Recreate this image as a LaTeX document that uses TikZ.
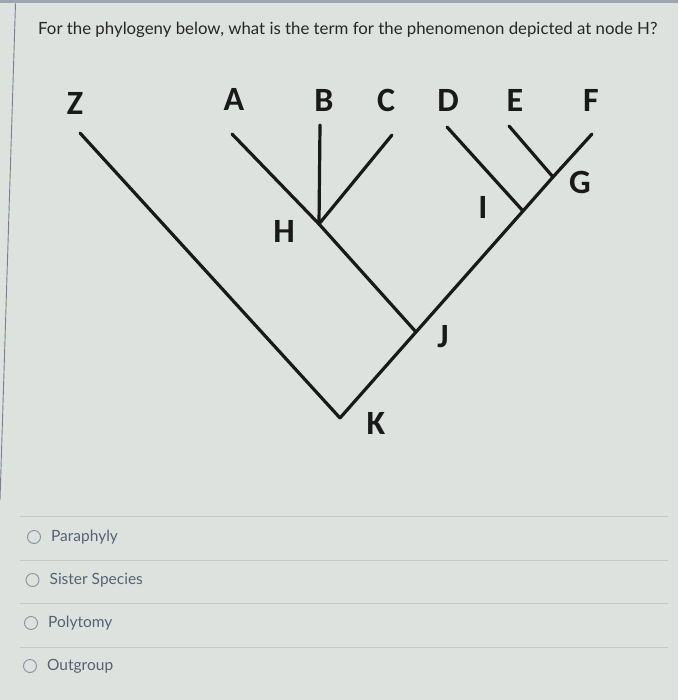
\documentclass[tikz,border=0pt]{standalone}
\usepackage{fontspec}
\setmainfont{Lato}
\newfontfamily\treefont{Carlito}
\usetikzlibrary{positioning}
\definecolor{screenbg}{HTML}{DDE2DF}
\definecolor{rulegray}{HTML}{C4C9C7}
\definecolor{optgray}{HTML}{596070}
\definecolor{topbar}{HTML}{9EA4B2}
\tikzset{>=latex}

\begin{document}
\begin{tikzpicture}[x=1pt, y=-1pt,
	branch/.style={line width=3.2pt, draw=black!90, line cap=round, line join=round},
	taxon/.style={font=\treefont\bfseries\fontsize{34}{36}\selectfont, text=black!90, inner sep=0pt},
	radio/.style={circle, draw=optgray!70, line width=0.9pt, inner sep=0pt, minimum size=13pt},
	choice/.style={font=\fontsize{15.5}{17}\selectfont, text=optgray, inner sep=0pt, anchor=west},
	sep/.style={draw=rulegray, line width=0.8pt}]
	\useasboundingbox (0,0) rectangle (678,700);
	\fill[screenbg] (0,0) rectangle (678,700);
	\fill[topbar] (0,0) rectangle (678,3.5);
	\draw[optgray!80, line width=0.9pt] (15.5,3.5) -- (0,500);

	% question
	\node[anchor=west, inner sep=0pt, font=\fontsize{16.8}{18}\selectfont, text=black!85] (question) at (38,30)
		{For the phylogeny below, what is the term for the phenomenon depicted at node H?};

	% tips and inner nodes of the tree
	\coordinate (tZ) at (80,133);
	\coordinate (tA) at (232,134);
	\coordinate (tB) at (320,125);
	\coordinate (tC) at (392,135);
	\coordinate (tD) at (447,127);
	\coordinate (tE) at (509,126);
	\coordinate (tF) at (592,134);
	\coordinate (nG) at (553,177);
	\coordinate (nH) at (319,224);
	\coordinate (nI) at (523,211);
	\coordinate (nJ) at (416,332);
	\coordinate (nK) at (340,418);

	\path[branch]
		(tZ) edge (nK)
		(tA) edge (nH)
		(tB) edge (nH)
		(tC) edge (nH)
		(nH) edge (nJ)
		(tD) edge (nI)
		(tE) edge (nG);
	\draw[branch] (tF) -- (nG) -- (nI) -- (nJ) -- (nK);

	% labels
	\node[taxon] (lZ) at (75,103) {Z};
	\node[taxon] (lA) at (234,99) {A};
	\node[taxon] (lB) at (324,100) {B};
	\node[taxon] (lC) at (386,100) {C};
	\node[taxon] (lD) at (448,100) {D};
	\node[taxon] (lE) at (515,100) {E};
	\node[taxon] (lF) at (591,100) {F};
	\node[taxon] (lG) at (580,182) {G};
	\node[taxon] (lH) at (284,231) {H};
	\node[taxon] (lI) at (483,207) {I};
	\node[taxon] (lJ) at (443,337) {J};
	\node[taxon] (lK) at (376,423) {K};

	% answer choices
	\draw[sep] (20,516) -- (668,516);
	\draw[sep] (20,560) -- (668,560);
	\draw[sep] (20,603) -- (668,603);
	\draw[sep] (20,647) -- (668,647);
	\node[radio] (r1) at (34,537) {};
	\node[radio] (r2) at (32.5,580) {};
	\node[radio] (r3) at (31,623) {};
	\node[radio] (r4) at (30,666) {};
	\node[choice, right=10pt of r1] (c1) {Paraphyly};
	\node[choice, right=10pt of r2] (c2) {Sister Species};
	\node[choice, right=10pt of r3] (c3) {Polytomy};
	\node[choice, right=10pt of r4] (c4) {Outgroup};
\end{tikzpicture}
\end{document}
